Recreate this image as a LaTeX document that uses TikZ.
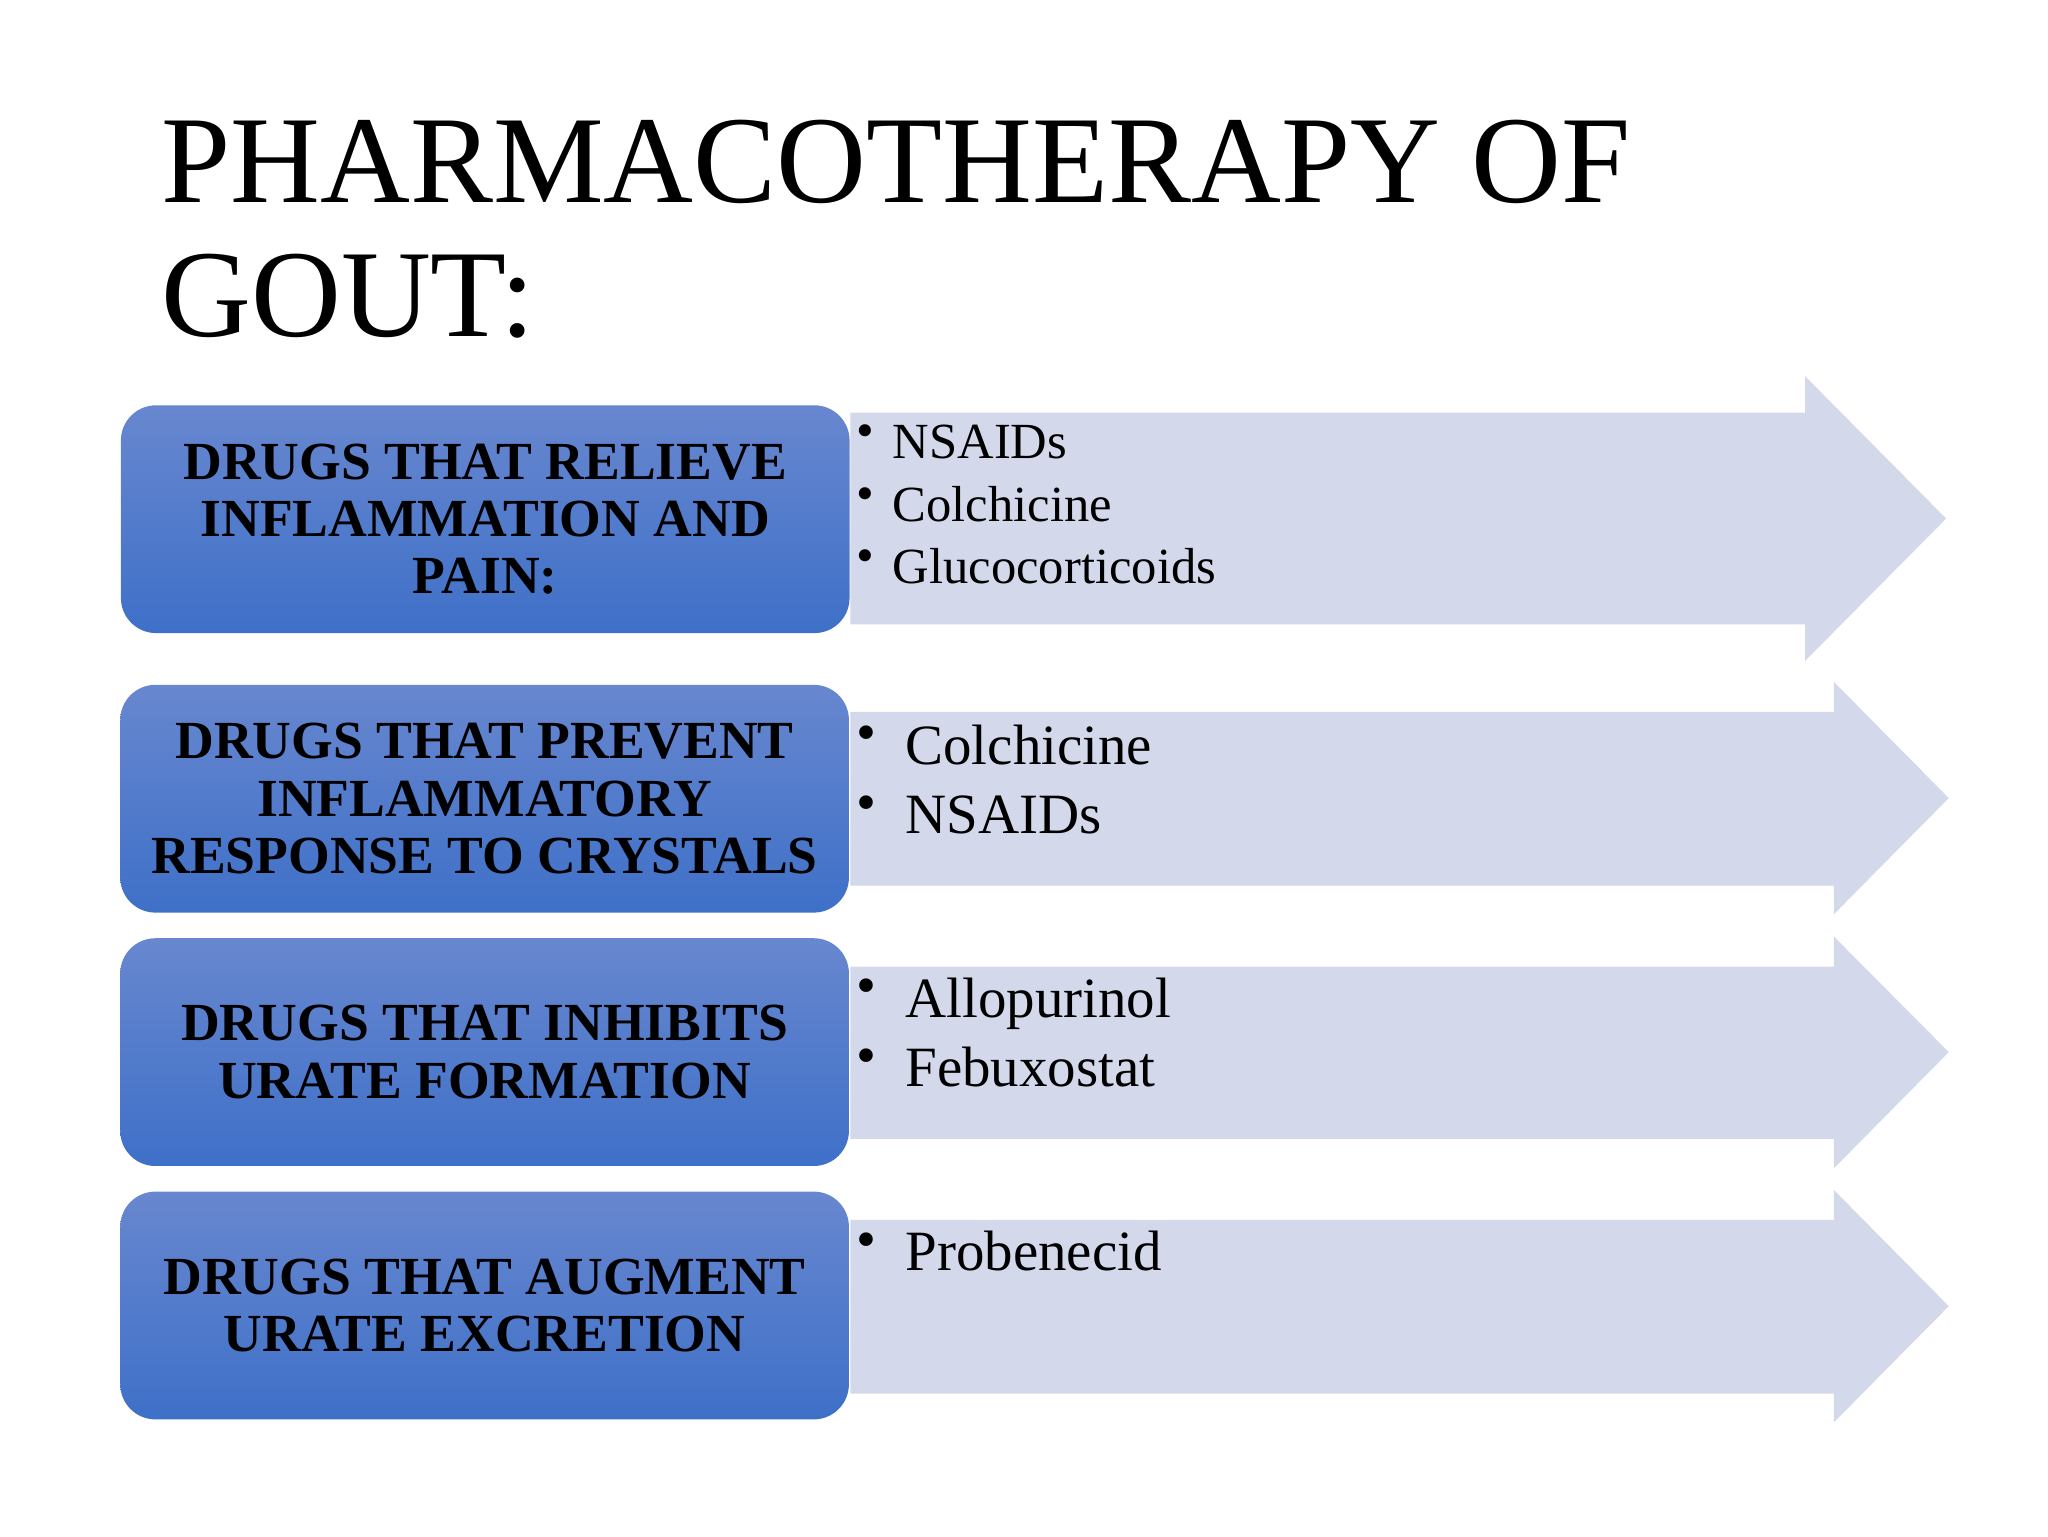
\documentclass[tikz,border=0pt]{standalone}
\usepackage{fontspec}
\setmainfont{Liberation Serif}
\usepackage{tikz}

\definecolor{boxtop}{RGB}{104,135,207}
\definecolor{boxbot}{RGB}{62,112,200}
\definecolor{band}{RGB}{211,217,235}

% bullet in a box of fixed width
\newcommand{\bul}[1]{\makebox[#1][l]{\raisebox{0.22em}{\textbullet}}}

\begin{document}
\begin{tikzpicture}[x=0.1306mm, y=-0.1306mm,
  title/.style = {anchor=north west, inner sep=0pt, align=left, font=\fontsize{35.4}{38.2}\selectfont},
  cat/.style = {rounded corners=10pt, top color=boxtop, bottom color=boxbot, minimum width=207.3pt, minimum height=64.8pt, inner sep=0pt, align=center, font=\fontsize{15.25}{16.3}\selectfont\bfseries},
  item/.style = {anchor=base west, inner sep=0pt, font=\fontsize{14.4}{17}\selectfont},
  bigitem/.style = {anchor=base west, inner sep=0pt, font=\fontsize{16.2}{20}\selectfont}]

\useasboundingbox (0,0) rectangle (1568,1176);

\node[title] (head) at (123,91.3) {PHARMACOTHERAPY OF\\GOUT:};

% arrows behind the boxes
\fill[band] (651,316) -- (1382,316) -- (1382,288) -- (1490,397) -- (1382,506) -- (1382,478) -- (651,478) -- cycle;
\fill[band] (651,545) -- (1404,545) -- (1404,522) -- (1492,611) -- (1404,700) -- (1404,678) -- (651,678) -- cycle;
\fill[band] (651,740) -- (1404,740) -- (1404,717) -- (1492,805.5) -- (1404,894.5) -- (1404,872) -- (651,872) -- cycle;
\fill[band] (651,934) -- (1404,934) -- (1404,911) -- (1492,1000) -- (1404,1089) -- (1404,1067) -- (651,1067) -- cycle;

% categories
\node[cat] (c1) at (371.5,397.5) {DRUGS THAT RELIEVE\\INFLAMMATION AND\\PAIN:};
\node[cat] (c2) at (371,611.5) {DRUGS THAT PREVENT\\INFLAMMATORY\\RESPONSE TO CRYSTALS};
\node[cat] (c3) at (371,805.5) {DRUGS THAT INHIBITS\\URATE FORMATION};
\node[cat] (c4) at (371,999.5) {DRUGS THAT AUGMENT\\URATE EXCRETION};

% drugs
\node[item] (d11) at (655,351) {\bul{10.4pt}NSAIDs};
\node[item] (d12) at (655,399.5) {\bul{10.4pt}Colchicine};
\node[item] (d13) at (655,447) {\bul{10.4pt}Glucocorticoids};
\node[bigitem] (d21) at (655,585) {\bul{14pt}Colchicine};
\node[bigitem] (d22) at (655,638.5) {\bul{14pt}NSAIDs};
\node[bigitem] (d31) at (655,779) {\bul{14pt}Allopurinol};
\node[bigitem] (d32) at (655,832) {\bul{14pt}Febuxostat};
\node[bigitem] (d41) at (655,973) {\bul{14pt}Probenecid};
\end{tikzpicture}
\end{document}
